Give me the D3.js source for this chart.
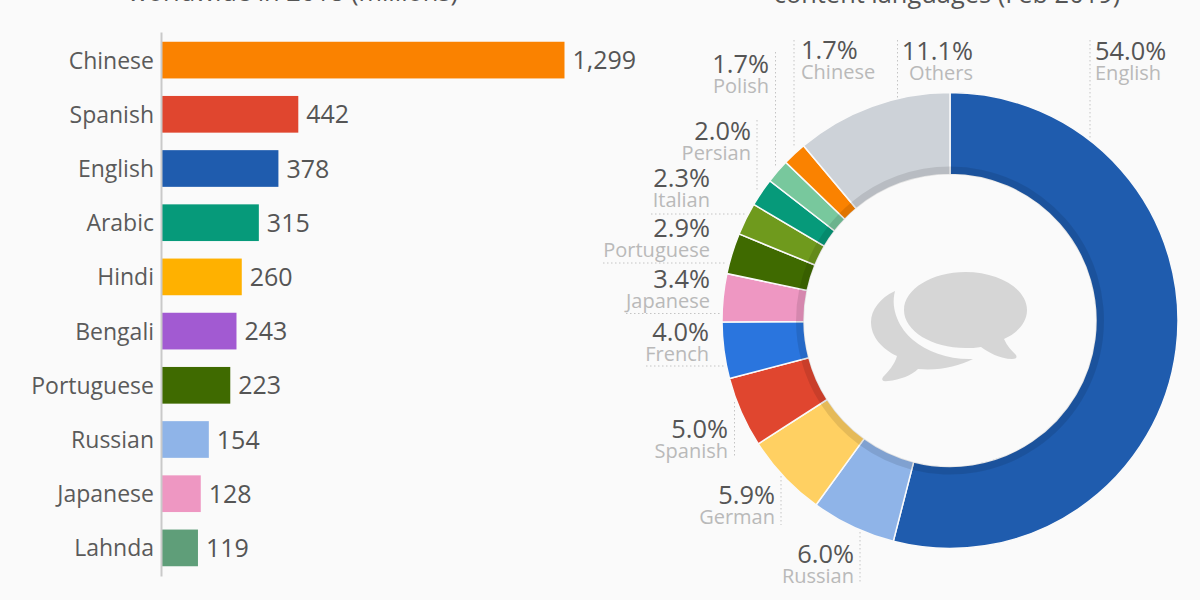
<!DOCTYPE html>
<html>
<head>
<meta charset="utf-8">
<script src="https://cdn.jsdelivr.net/npm/d3@7"></script>
<style>
  html, body { margin: 0; padding: 0; background: #fafafa; }
  svg { display: block; font-family: "Open Sans", sans-serif; }
</style>
</head>
<body>
<svg id="chart" width="1200" height="600"></svg>
<script>
// left chart: speakers
var speakerLangs = ["Chinese", "Spanish", "English", "Arabic", "Hindi", "Bengali", "Portuguese", "Russian", "Japanese", "Lahnda"];
var speakerValues = [1299, 442, 378, 315, 260, 243, 223, 154, 128, 119];
var speakerColors = ["#fa8200", "#e0462f", "#1f5cae", "#069a7a", "#ffb100", "#a25ad2", "#3f6a00", "#8fb4e8", "#ee97c2", "#5f9e79"];

// right chart: content languages, clockwise from the top
var contentLangs = ["English", "Russian", "German", "Spanish", "French", "Japanese", "Portuguese", "Italian", "Persian", "Polish", "Chinese", "Others"];
var contentShares = [54.0, 6.0, 5.9, 5.0, 4.0, 3.4, 2.9, 2.3, 2.0, 1.7, 1.7, 11.1];
var contentColors = ["#1f5cae", "#8fb4e8", "#ffd062", "#e0462f", "#2a75de", "#ee97c2", "#3f6a00", "#6f9a1d", "#069a7a", "#78c89d", "#fa8200", "#cdd2d8"];

// hand placed annotations of the donut: text x, anchor, baseline of the pct, leader line
var labelSpots = {
  English: { x: 1095, anchor: "start", y: 60, line: [1090, 40, 1090, 140] },
  Russian: { x: 854, anchor: "end", y: 563, line: [860, 532, 860, 584] },
  German: { x: 775, anchor: "end", y: 504, line: [781, 476, 781, 525] },
  Spanish: { x: 728, anchor: "end", y: 438, line: [734.5, 402, 734.5, 457] },
  French: { x: 709, anchor: "end", y: 341, line: [646, 366, 725, 366] },
  Japanese: { x: 710, anchor: "end", y: 288, line: [626, 313.5, 720, 313.5] },
  Portuguese: { x: 710, anchor: "end", y: 237, line: [603, 263, 727, 263] },
  Italian: { x: 710, anchor: "end", y: 187, line: [651, 214, 745, 214] },
  Persian: { x: 751, anchor: "end", y: 140, line: [757, 120, 757, 190] },
  Polish: { x: 769, anchor: "end", y: 73, line: [775.5, 52, 775.5, 167] },
  Chinese: { x: 801, anchor: "start", y: 59, line: [794, 40, 794, 147] },
  Others: { x: 973, anchor: "end", y: 60, line: [897.5, 40, 897.5, 104] }
};

var svg = d3.select("#chart");

// titles, the tops are cut off by the picture edge
svg.append("text").attr("x", 293).attr("y", 1).attr("text-anchor", "middle")
  .attr("font-size", 25.4).attr("fill", "#555").text("worldwide in 2018 (millions)");
svg.append("text").attr("x", 947).attr("y", 3).attr("text-anchor", "middle")
  .attr("font-size", 25.4).attr("fill", "#555").text("content languages (Feb 2019)");

// --------------------------------------------
// bars
var x = d3.scaleLinear().domain([0, 1299]).range([161, 564.5]);
var y = d3.scaleBand().domain(speakerLangs).range([33, 575]).paddingInner(0.323).paddingOuter(0.1615);

svg.selectAll("rect.bar")
  .data(speakerLangs)
  .enter().append("rect")
  .attr("class", "bar")
  .attr("x", x(0))
  .attr("y", function (d) { return y(d); })
  .attr("width", function (d, i) { return x(speakerValues[i]) - x(0); })
  .attr("height", y.bandwidth())
  .attr("fill", function (d, i) { return speakerColors[i]; });

var axis = svg.append("g")
  .attr("transform", "translate(161,0)")
  .call(d3.axisLeft(y).tickSize(0).tickPadding(7));
axis.select(".domain").attr("stroke", "#c9c9c9").attr("stroke-width", 2).attr("stroke-linecap", "square");
axis.selectAll("text").attr("font-family", "Open Sans").attr("font-size", 23).attr("fill", "#5a5a5a").attr("dy", "0.35em").attr("y", 0.5);

svg.selectAll("text.val")
  .data(speakerLangs)
  .enter().append("text")
  .attr("class", "val")
  .attr("x", function (d, i) { return x(speakerValues[i]) + 8; })
  .attr("y", function (d) { return y(d) + y.bandwidth() / 2 + 9; })
  .attr("font-size", 25)
  .attr("fill", "#555")
  .text(function (d, i) { return d3.format(",")(speakerValues[i]); });

// --------------------------------------------
// donut
var donut = svg.append("g").attr("transform", "translate(950,320.5)");
var pie = d3.pie().sort(null)(contentShares);
var arc = d3.arc().innerRadius(146).outerRadius(228);
var shade = d3.arc().innerRadius(146).outerRadius(154);

donut.selectAll("path.slice")
  .data(pie)
  .enter().append("path")
  .attr("class", "slice")
  .attr("d", arc)
  .attr("fill", function (d, i) { return contentColors[i]; })
  .attr("stroke", "#fafafa")
  .attr("stroke-width", 1.5);

donut.selectAll("path.shade")
  .data(pie)
  .enter().append("path")
  .attr("class", "shade")
  .attr("d", shade)
  .attr("fill", "#000")
  .attr("opacity", 0.1);

// leaders go under the labels
svg.selectAll("line.leader")
  .data(contentLangs)
  .enter().insert("line", "g")
  .attr("class", "leader")
  .attr("x1", function (d) { return labelSpots[d].line[0]; })
  .attr("y1", function (d) { return labelSpots[d].line[1]; })
  .attr("x2", function (d) { return labelSpots[d].line[2]; })
  .attr("y2", function (d) { return labelSpots[d].line[3]; })
  .attr("stroke", "#c4c4c4")
  .attr("stroke-width", 1)
  .attr("stroke-dasharray", "1.5 2.5");

svg.selectAll("text.pct")
  .data(contentLangs)
  .enter().append("text")
  .attr("class", "pct")
  .attr("x", function (d) { return labelSpots[d].x; })
  .attr("y", function (d) { return labelSpots[d].y; })
  .attr("text-anchor", function (d) { return labelSpots[d].anchor; })
  .attr("font-size", 25.4)
  .attr("fill", "#555")
  .text(function (d, i) { return contentShares[i].toFixed(1) + "%"; });

svg.selectAll("text.lang")
  .data(contentLangs)
  .enter().append("text")
  .attr("class", "lang")
  .attr("x", function (d) { return labelSpots[d].x; })
  .attr("y", function (d) { return labelSpots[d].y + 19.5; })
  .attr("text-anchor", function (d) { return labelSpots[d].anchor; })
  .attr("font-size", 20)
  .attr("fill", "#b9b9b9")
  .text(function (d) { return d; });

// --------------------------------------------
// speech bubbles in the hole
svg.append("path")
  .attr("fill", "#d6d6d6")
  .attr("d", "M895,291C880,298 871,310 871,322C871,337 882,349 897,356C895,364 888,372 883,377Q880,382 888,381C900,380 912,375 918,369C940,371 958,366 973,359C950,360 927,352 913,340C900,329 890,310 895,291Z");
svg.append("path")
  .attr("fill", "#d6d6d6")
  .attr("d", "M965.5,272C999,272 1027,289 1027,310C1027,323 1017,333 1004,339C1007,346 1012,351 1016,355Q1018,359 1012,359C1000,359 988,352 981,347C976,348 971,348 965.5,348C932,348 904,331 904,310C904,289 932,272 965.5,272Z");
</script>
</body>
</html>
